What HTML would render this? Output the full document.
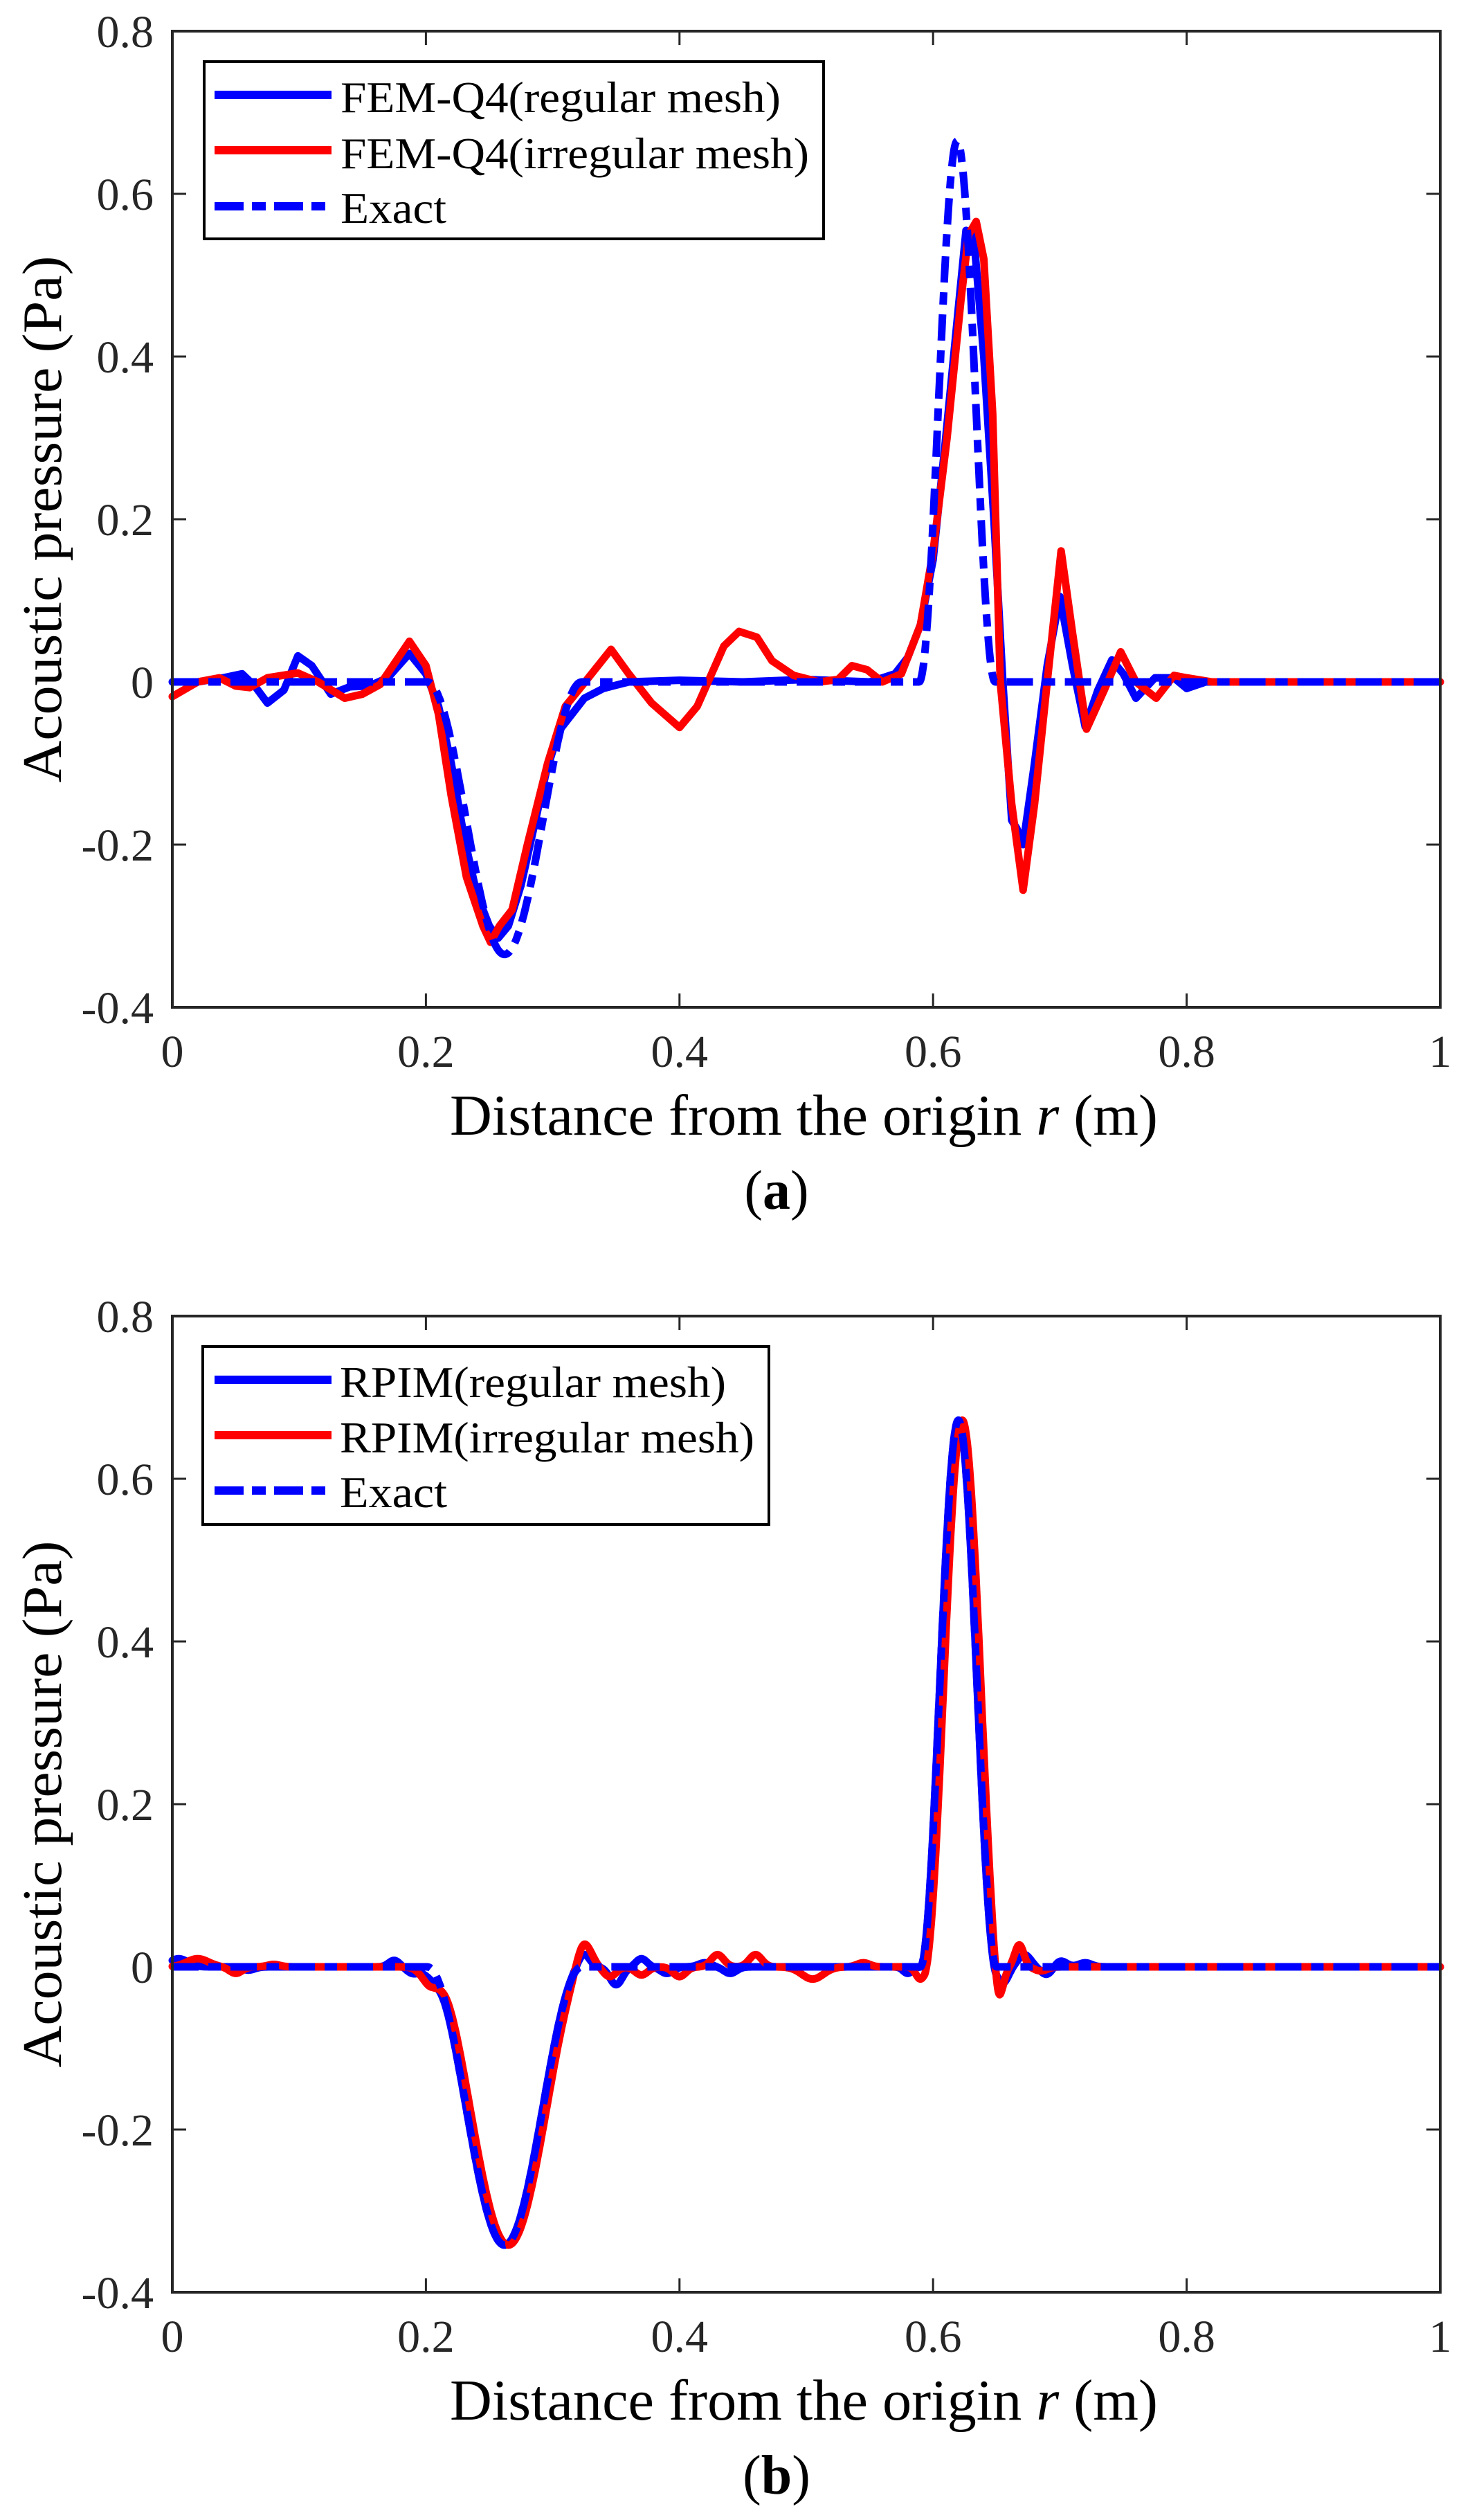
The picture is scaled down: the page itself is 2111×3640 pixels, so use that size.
<!DOCTYPE html>
<html><head><meta charset="utf-8"><style>
html,body{margin:0;padding:0;background:#fff;}
svg{display:block;}
text{font-family:"Liberation Serif",serif;fill:#000;}
.tk{font-size:66px;fill:#262626;}
</style></head><body>
<svg id="s" width="2111" height="3640" viewBox="0 0 2111 3640" xmlns="http://www.w3.org/2000/svg">
<rect width="2111" height="3640" fill="#fff"/>
<g id="gA"></g>
<g id="gB"></g>
<!-- labels A -->
<text x="650" y="1639" font-size="84" textLength="1023" lengthAdjust="spacingAndGlyphs">Distance from the origin <tspan font-style="italic">r</tspan> (m)</text>
<text x="1122" y="1746" font-size="80" text-anchor="middle">(<tspan font-weight="bold">a</tspan>)</text>
<text transform="translate(88,750) rotate(-90)" font-size="80" text-anchor="middle" textLength="761" lengthAdjust="spacingAndGlyphs">Acoustic pressure (Pa)</text>
<!-- labels B -->
<text x="650" y="3495" font-size="84" textLength="1023" lengthAdjust="spacingAndGlyphs">Distance from the origin <tspan font-style="italic">r</tspan> (m)</text>
<text x="1122" y="3602" font-size="80" text-anchor="middle">(<tspan font-weight="bold">b</tspan>)</text>
<text transform="translate(88,2606) rotate(-90)" font-size="80" text-anchor="middle" textLength="761" lengthAdjust="spacingAndGlyphs">Acoustic pressure (Pa)</text>
<!-- legend A -->
<rect x="295" y="89" width="895" height="256" fill="#fff" stroke="#000" stroke-width="4"/>
<line x1="310" y1="137" x2="479" y2="137" stroke="#0000ff" stroke-width="12"/>
<line x1="310" y1="217" x2="479" y2="217" stroke="#ff0000" stroke-width="12"/>
<line x1="310" y1="298" x2="470" y2="298" stroke="#0000ff" stroke-width="12" stroke-dasharray="42 12 20 12"/>
<text x="492" y="162" font-size="64" textLength="636" lengthAdjust="spacingAndGlyphs">FEM-Q4(regular mesh)</text>
<text x="492" y="243" font-size="64" textLength="677" lengthAdjust="spacingAndGlyphs">FEM-Q4(irregular mesh)</text>
<text x="492" y="322" font-size="64" textLength="153" lengthAdjust="spacingAndGlyphs">Exact</text>
<!-- legend B -->
<rect x="293" y="1945" width="818" height="257" fill="#fff" stroke="#000" stroke-width="4"/>
<line x1="310" y1="1993" x2="479" y2="1993" stroke="#0000ff" stroke-width="12"/>
<line x1="310" y1="2073" x2="479" y2="2073" stroke="#ff0000" stroke-width="12"/>
<line x1="310" y1="2153" x2="470" y2="2153" stroke="#0000ff" stroke-width="12" stroke-dasharray="42 12 20 12"/>
<text x="491" y="2018" font-size="64" textLength="558" lengthAdjust="spacingAndGlyphs">RPIM(regular mesh)</text>
<text x="491" y="2098" font-size="64" textLength="599" lengthAdjust="spacingAndGlyphs">RPIM(irregular mesh)</text>
<text x="491" y="2177" font-size="64" textLength="155" lengthAdjust="spacingAndGlyphs">Exact</text>
</svg>
<script>
var NS="http://www.w3.org/2000/svg";
var L=249,R=2081,W=1832,SY=1175;
function mk(g,tag,at,txt){var e=document.createElementNS(NS,tag);for(var k in at)e.setAttribute(k,at[k]);if(txt!==undefined)e.textContent=txt;g.appendChild(e);return e;}
function cos2(r,c,w,A){var d=(r-c)/w;if(Math.abs(d)>=0.5)return 0;var q=Math.cos(Math.PI*d);return A*q*q;}
function exA(r){return cos2(r,0.262,0.122,-0.335)+cos2(r,0.619,0.06,0.665);}
function exB(r){return cos2(r,0.262,0.122,-0.342)+cos2(r,0.62,0.06,0.672);}
function gb(r,list){var s=0;for(var i=0;i<list.length;i++){var b=list[i];var sg=b[2]||0.007;var d=(r-b[0])/sg;s+=b[1]*Math.exp(-d*d);}return s;}
function pathFn(f,y0){var d="";for(var i=0;i<=2000;i++){var r=i/2000;var x=L+W*r,y=y0-SY*f(r);d+=(i?"L":"M")+x.toFixed(1)+" "+y.toFixed(1);}return d;}
function pathPts(p,y0){var d="";for(var i=0;i<p.length;i++){d+=(i?"L":"M")+(L+W*p[i][0]).toFixed(1)+" "+(y0-SY*p[i][1]).toFixed(1);}return d;}
function axes(g,top,y0){
  var bot=top+1410;
  // ticks
  for(var i=0;i<=5;i++){var x=L+W*i*0.2;
    if(i>0&&i<5){mk(g,"line",{x1:x,y1:bot,x2:x,y2:bot-20,stroke:"#262626","stroke-width":3});
    mk(g,"line",{x1:x,y1:top,x2:x,y2:top+20,stroke:"#262626","stroke-width":3});}
    mk(g,"text",{x:x,y:bot+86,"class":"tk","text-anchor":"middle"},["0","0.2","0.4","0.6","0.8","1"][i]);}
  var lab=["-0.4","-0.2","0","0.2","0.4","0.6","0.8"];
  for(var j=0;j<7;j++){var v=-0.4+0.2*j;var y=y0-SY*v;
    if(j>0&&j<6){mk(g,"line",{x1:L,y1:y,x2:L+20,y2:y,stroke:"#262626","stroke-width":3});
    mk(g,"line",{x1:R,y1:y,x2:R-20,y2:y,stroke:"#262626","stroke-width":3});}
    mk(g,"text",{x:222,y:y+23,"class":"tk","text-anchor":"end"},lab[j]);}
}
function frame(g,top){mk(g,"rect",{x:L,y:top,width:W,height:1410,fill:"none",stroke:"#262626","stroke-width":4});}
function line(g,d,col,dash){var a={d:d,fill:"none",stroke:col,"stroke-width":11,"stroke-linejoin":"round","stroke-linecap":dash?"butt":"round"};if(dash)a["stroke-dasharray"]="38 14 18 14";mk(g,"path",a);}

// ---- Plot A ----
var gA=document.getElementById("gA");var y0A=985,topA=45;
axes(gA,topA,y0A);
var blueA=[[0,0],[0.02,0],[0.04,0.005],[0.055,0.01],[0.065,-0.005],[0.075,-0.026],[0.088,-0.01],[0.099,0.032],[0.11,0.02],[0.125,-0.015],[0.14,-0.006],[0.155,-0.005],[0.17,0.005],[0.187,0.035],[0.2,0.01],[0.21,-0.03],[0.22,-0.1],[0.23,-0.19],[0.24,-0.26],[0.25,-0.3],[0.257,-0.315],[0.265,-0.3],[0.275,-0.25],[0.285,-0.18],[0.295,-0.11],[0.305,-0.06],[0.315,-0.04],[0.325,-0.02],[0.34,-0.008],[0.36,0.0],[0.4,0.002],[0.45,0.0],[0.5,0.003],[0.55,0.0],[0.57,0.01],[0.58,0.03],[0.59,0.07],[0.6,0.15],[0.61,0.3],[0.62,0.46],[0.626,0.555],[0.632,0.55],[0.64,0.4],[0.648,0.2],[0.655,0.0],[0.662,-0.17],[0.666,-0.18],[0.671,-0.2],[0.68,-0.1],[0.69,0.02],[0.7,0.105],[0.71,0.02],[0.72,-0.055],[0.73,-0.01],[0.741,0.027],[0.75,0.01],[0.76,-0.02],[0.775,0.005],[0.79,0.005],[0.8,-0.008],[0.815,0.0],[1,0]];
var redA=[[0,-0.018],[0.02,0.0],[0.037,0.005],[0.05,-0.005],[0.061,-0.007],[0.075,0.005],[0.099,0.011],[0.115,0.0],[0.136,-0.02],[0.15,-0.015],[0.164,-0.003],[0.187,0.05],[0.2,0.02],[0.21,-0.04],[0.22,-0.14],[0.232,-0.24],[0.245,-0.3],[0.251,-0.32],[0.258,-0.3],[0.268,-0.28],[0.28,-0.2],[0.296,-0.1],[0.31,-0.03],[0.324,-0.003],[0.346,0.04],[0.36,0.01],[0.378,-0.026],[0.4,-0.056],[0.414,-0.03],[0.435,0.044],[0.447,0.062],[0.461,0.055],[0.473,0.026],[0.49,0.008],[0.51,0.0],[0.525,0.003],[0.536,0.02],[0.548,0.015],[0.56,0.0],[0.575,0.01],[0.59,0.07],[0.6,0.16],[0.611,0.3],[0.622,0.47],[0.628,0.55],[0.634,0.566],[0.64,0.52],[0.647,0.33],[0.653,0.0],[0.662,-0.15],[0.671,-0.256],[0.68,-0.15],[0.69,0.0],[0.701,0.161],[0.71,0.06],[0.721,-0.058],[0.735,-0.01],[0.748,0.037],[0.76,0.0],[0.776,-0.02],[0.79,0.008],[0.8,0.005],[0.82,0.0],[1,0]];
line(gA,pathPts(blueA,y0A),"#0000ff");
line(gA,pathPts(redA,y0A),"#ff0000");
line(gA,pathFn(exA,y0A),"#0000ff",true);
frame(gA,topA);

// ---- Plot B ----
var gB=document.getElementById("gB");var y0B=2841,topB=1901;
axes(gB,topB,y0B);
var bB=[[0.005,0.01,0.01],[0.06,-0.004],[0.175,0.008,0.006],[0.19,-0.008],[0.205,-0.015,0.008],[0.325,0.015,0.006],[0.35,-0.022,0.007],[0.37,0.01,0.006],[0.39,-0.008],[0.42,0.005],[0.44,-0.008],[0.58,-0.008,0.005],[0.655,-0.02,0.006],[0.672,0.015],[0.69,-0.01],[0.7,0.008],[0.72,0.005]];
var rB=[[0.02,0.01,0.012],[0.05,-0.008],[0.08,0.003],[0.205,-0.025,0.01],[0.325,0.028,0.008],[0.345,-0.012],[0.37,-0.01],[0.4,-0.012],[0.43,0.015],[0.46,0.015],[0.505,-0.015,0.012],[0.545,0.005],[0.59,-0.015,0.005],[0.652,-0.035,0.005],[0.668,0.027,0.005],[0.685,-0.005]];
line(gB,pathFn(function(r){return exB(r)+gb(r,bB);},y0B),"#0000ff");
line(gB,pathFn(function(r){return exB(r-0.003)+gb(r,rB);},y0B),"#ff0000");
line(gB,pathFn(exB,y0B),"#0000ff",true);
frame(gB,topB);
</script>
</body></html>
